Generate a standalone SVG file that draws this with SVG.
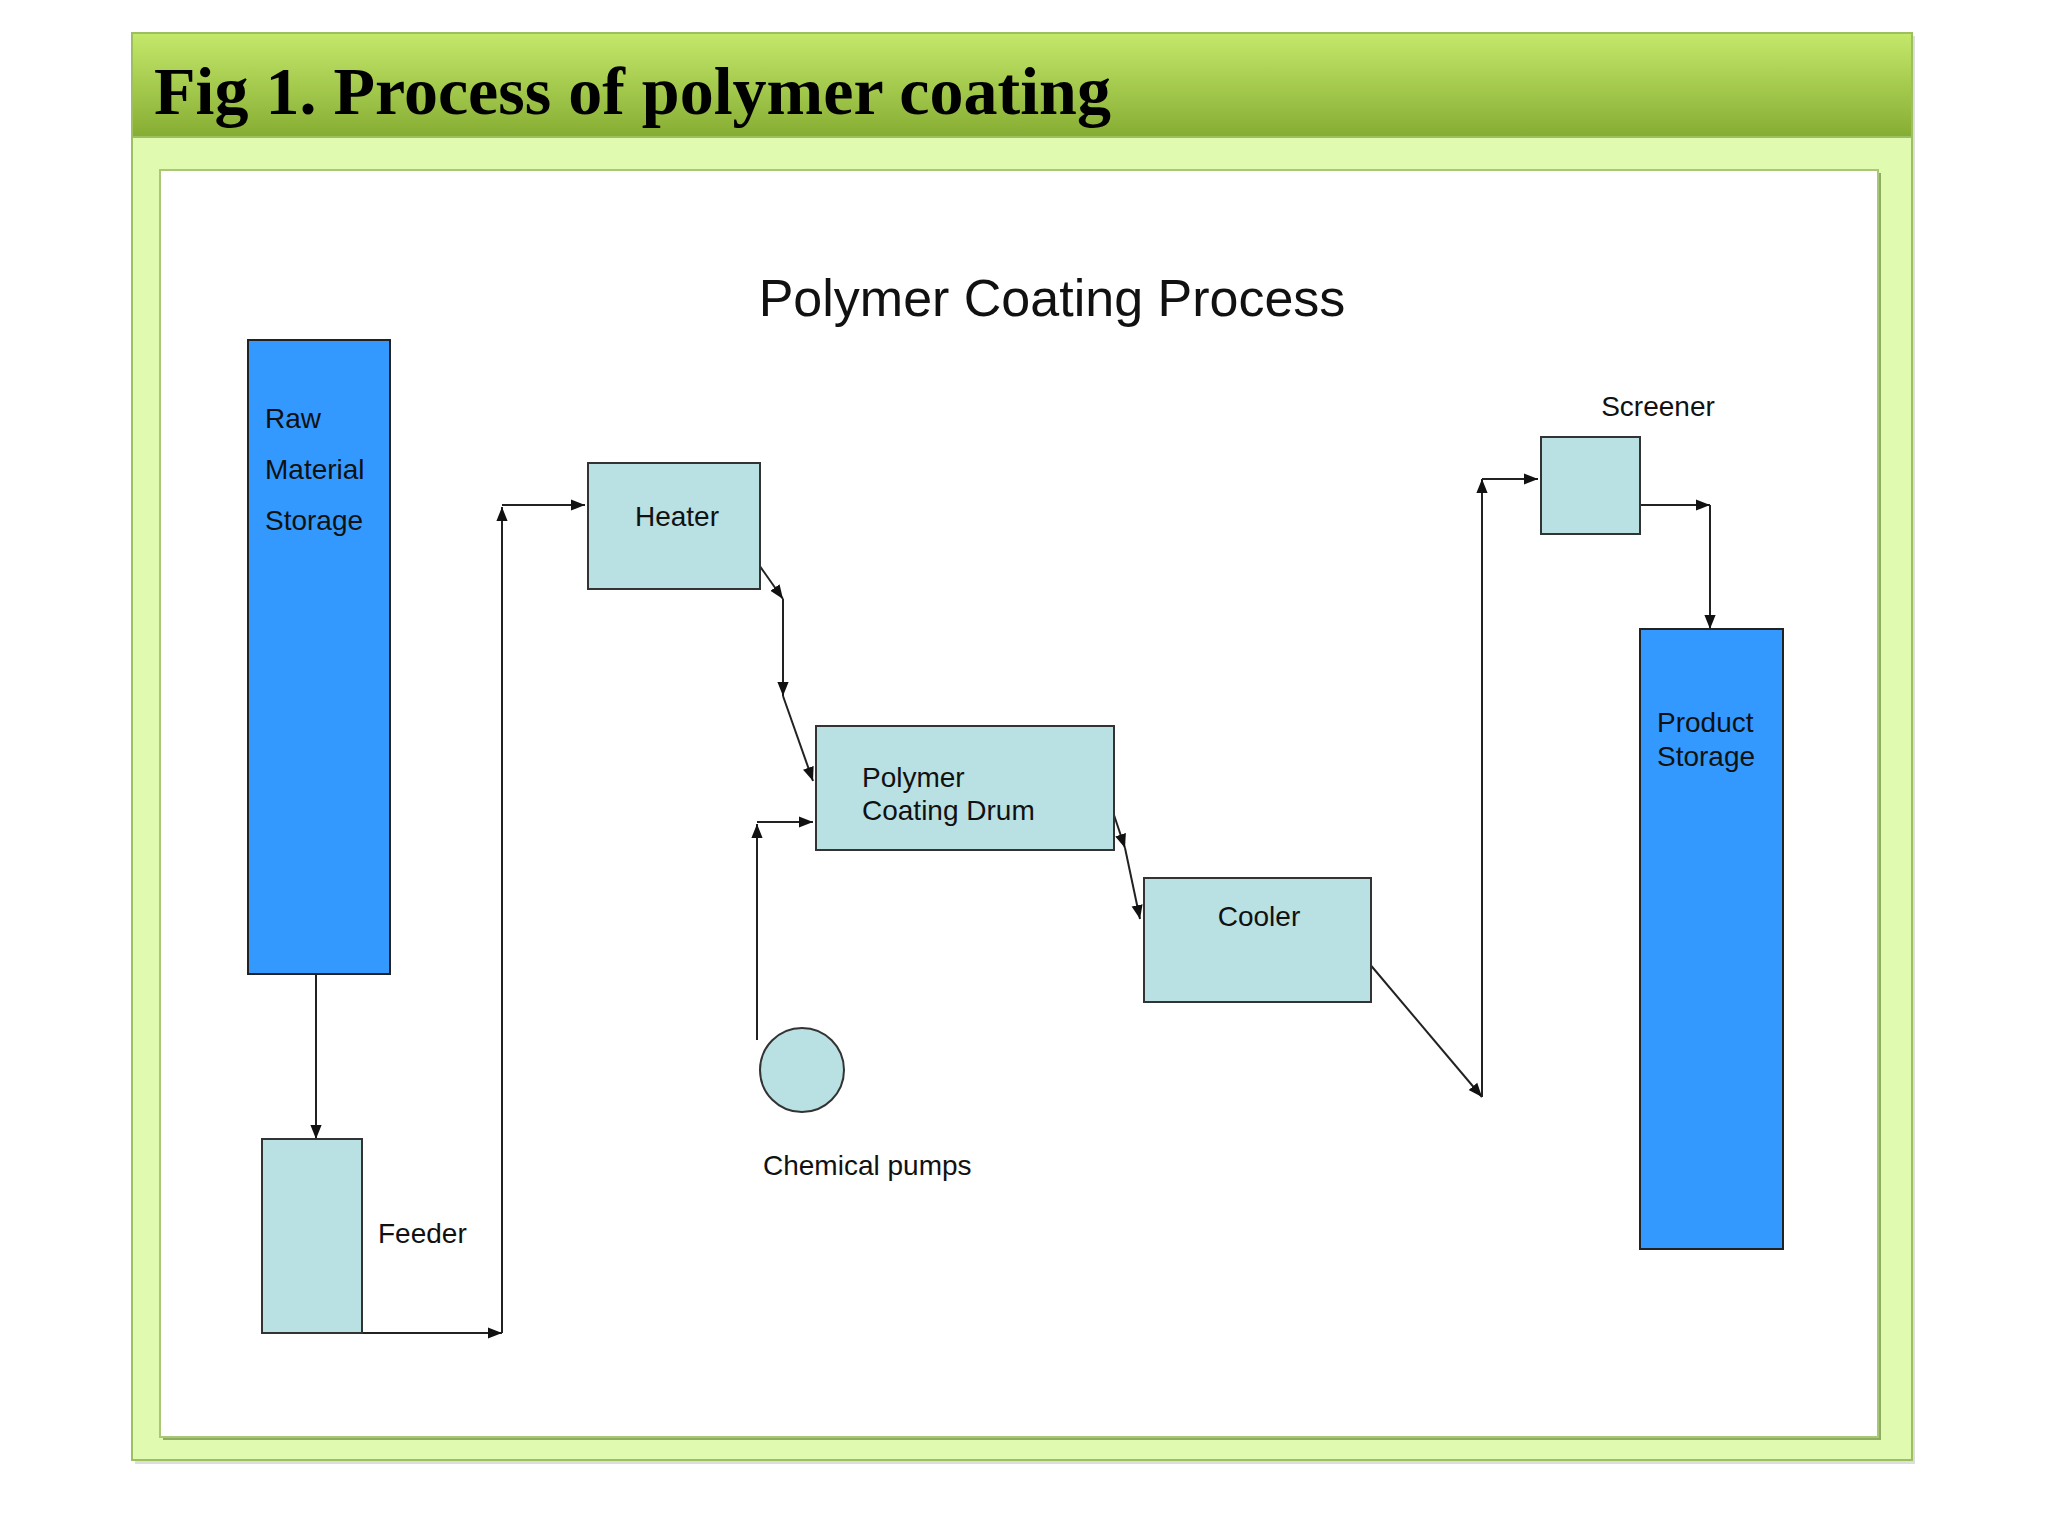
<svg xmlns="http://www.w3.org/2000/svg" width="2048" height="1536" viewBox="0 0 2048 1536">
<defs>
<linearGradient id="hg" x1="0" y1="0" x2="0" y2="1"><stop offset="0" stop-color="#c4e86a"/><stop offset="1" stop-color="#86ad33"/></linearGradient>
<marker id="ar" viewBox="0 0 10 10" refX="10" refY="5" markerWidth="7" markerHeight="7" orient="auto"><path d="M0,1 L10,5 L0,9 z" fill="#111"/></marker>
<style>
.b{fill:#3399ff;stroke:#222;stroke-width:2}
.l{fill:#b9e0e3;stroke:#333;stroke-width:2}
.t{font-family:"Liberation Sans",Arial,sans-serif;font-size:28px;fill:#111}
.c{fill:none;stroke:#222;stroke-width:2}
.a{marker-end:url(#ar)}
</style>
</defs>
<rect width="2048" height="1536" fill="#fff"/>
<rect x="135" y="36" width="1780" height="1428" fill="#bbb" opacity="0.5"/>
<rect x="132" y="137" width="1780" height="1323" fill="#e0fbb0" stroke="#9cc060" stroke-width="2"/>
<rect x="132" y="33" width="1780" height="104" fill="url(#hg)" stroke="#9cc060" stroke-width="2"/>
<text x="154" y="114" font-family="'Liberation Serif','Times New Roman',serif" font-weight="bold" font-size="68" fill="#000">Fig 1. Process of polymer coating</text>
<rect x="163" y="173" width="1718" height="1267" fill="#8fad60"/>
<rect x="160" y="170" width="1718" height="1267" fill="#fff" stroke="#a8c878" stroke-width="2"/>
<text x="1052" y="316" text-anchor="middle" font-family="'Liberation Sans',Arial,sans-serif" font-size="52" fill="#111">Polymer Coating Process</text>
<g id="connectors">
<line class="c a" x1="316" y1="974" x2="316" y2="1139"/>
<line class="c a" x1="359" y1="1333" x2="502" y2="1333"/>
<line class="c a" x1="502" y1="1333" x2="502" y2="507"/>
<line class="c a" x1="502" y1="505" x2="585" y2="505"/>
<line class="c a" x1="757" y1="562" x2="783" y2="599"/>
<line class="c a" x1="783" y1="599" x2="783" y2="696"/>
<line class="c a" x1="783" y1="696" x2="813" y2="781"/>
<line class="c a" x1="757" y1="1040" x2="757" y2="824"/>
<line class="c a" x1="757" y1="822" x2="813" y2="822"/>
<line class="c a" x1="1112" y1="809" x2="1125" y2="848"/>
<line class="c a" x1="1125" y1="848" x2="1140" y2="919"/>
<line class="c a" x1="1368" y1="962" x2="1482" y2="1097"/>
<line class="c a" x1="1482" y1="1097" x2="1482" y2="479"/>
<line class="c a" x1="1482" y1="479" x2="1538" y2="479"/>
<line class="c a" x1="1637" y1="505" x2="1710" y2="505"/>
<line class="c a" x1="1710" y1="505" x2="1710" y2="629"/>
</g>
<g id="raw"><rect class="b" x="248" y="340" width="142" height="634"/>
<text class="t" x="265" y="428">Raw</text><text class="t" x="265" y="479">Material</text><text class="t" x="265" y="530">Storage</text></g>
<g id="feeder"><rect class="l" x="262" y="1139" width="100" height="194"/><text class="t" x="378" y="1243">Feeder</text></g>
<g id="heater"><rect class="l" x="588" y="463" width="172" height="126"/><text class="t" x="677" y="526" text-anchor="middle">Heater</text></g>
<g id="drum"><rect class="l" x="816" y="726" width="298" height="124"/><text class="t" x="862" y="787">Polymer</text><text class="t" x="862" y="820">Coating Drum</text></g>
<g id="cooler"><rect class="l" x="1144" y="878" width="227" height="124"/><text class="t" x="1259" y="926" text-anchor="middle">Cooler</text></g>
<g id="screener"><rect class="l" x="1541" y="437" width="99" height="97"/><text class="t" x="1658" y="416" text-anchor="middle">Screener</text></g>
<g id="product"><rect class="b" x="1640" y="629" width="143" height="620"/><text class="t" x="1657" y="732">Product</text><text class="t" x="1657" y="766">Storage</text></g>
<g id="pumps"><circle class="l" cx="802" cy="1070" r="42"/><text class="t" x="763" y="1175">Chemical pumps</text></g>
</svg>
